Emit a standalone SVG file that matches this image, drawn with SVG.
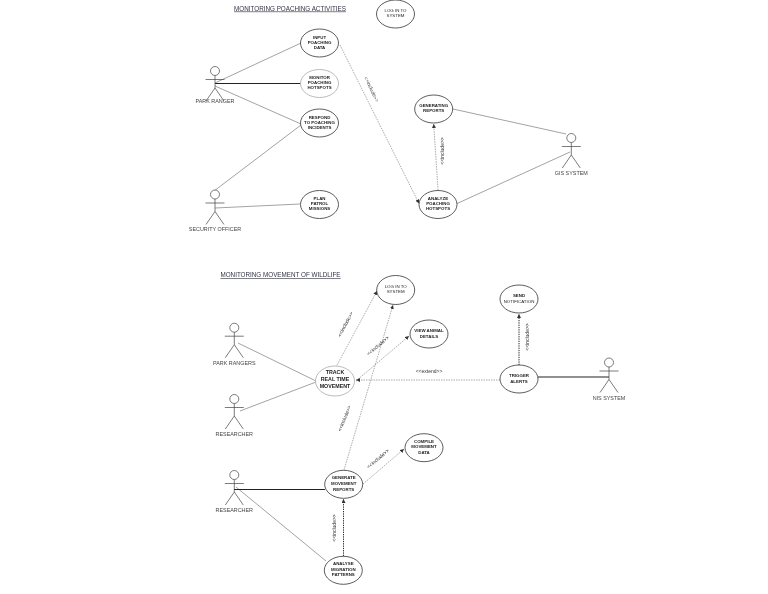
<svg xmlns="http://www.w3.org/2000/svg" width="768" height="594" viewBox="0 0 768 594">
<style>
text{font-family:"Liberation Sans",Arial,sans-serif;text-anchor:middle;fill:#222}
.uc{font-size:4.4px;font-weight:bold}
.ucn{font-size:4.4px}
.ac{font-size:5.400px;fill:#444}
.ti{font-size:6.300px;fill:#334;text-decoration:underline}
.st{font-size:5px;fill:#333}
.uc-shape{fill:#fff;stroke:#333;stroke-width:.8}
.limb{fill:none;stroke:#444;stroke-width:.7}
.head{fill:#fff;stroke:#444;stroke-width:.7}
.assoc{stroke:#999;stroke-width:.9;fill:none}
.strong{stroke:#222;stroke-width:1.100;fill:none}
.dash{stroke:#888;stroke-width:.7;stroke-dasharray:1.500 1;fill:none;marker-end:url(#arr)}
.dashk{stroke:#111;stroke-width:.9;stroke-dasharray:1.300 1;fill:none;marker-end:url(#arr)}
</style>
<defs>
<filter id="soft" x="0" y="0" width="100%" height="100%"><feGaussianBlur stdDeviation="0.3"/></filter>
<marker id="arr" markerUnits="userSpaceOnUse" markerWidth="5" markerHeight="5" refX="4" refY="2" orient="auto"><path d="M0 0L4 2L0 4Z" fill="#333"/></marker>
<symbol id="actor" overflow="visible"><circle class="head" cx="0" cy="0" r="4.500"/><path class="limb" d="M0 4.500V17M-9.500 8.500H9.500M0 17L-9 30M0 17L9 30"/></symbol>
</defs>
<g filter="url(#soft)">
<rect width="768" height="594" fill="#fff"/>
<g id="connectors">
<path class="assoc" d="M215 83L301 43M215 86L301 124M214 191L301 125M215 208L300 204M453 109L566 134M456 204L570 152M316 381L238 343M316 382L240 411M326 561L236 487"/>
<path class="strong" d="M215 83.500H301M234 489.500H325M538 377H609"/>
<path class="dash" d="M340 45L419 203.500"/>
<path class="dash" d="M438 190L433.700 124"/>
<path class="dash" d="M336 367L377 291"/>
<path class="dash" d="M356 381L409 336"/>
<path class="dash" d="M344 470L393 305"/>
<path class="dash" d="M500 380L356 380"/>
<path class="dash" d="M363 484L404 449"/>
<path class="dashk" d="M519 365L519 314"/>
<path class="dashk" d="M343.500 556L343.500 499"/>
</g>
<g id="titles">
<text class="ti" x="290" y="10.500">MONITORING POACHING ACTIVITIES</text>
<text class="ti" x="280.500" y="277">MONITORING MOVEMENT OF WILDLIFE</text>
</g>
<g id="stereotypes">
<text class="st" transform="translate(370 90) rotate(65)">&lt;&lt;include&gt;&gt;</text>
<text class="st" transform="translate(444 151) rotate(-90)">&lt;&lt;include&gt;&gt;</text>
<text class="st" transform="translate(347 325) rotate(-62)">&lt;&lt;include&gt;&gt;</text>
<text class="st" transform="translate(379 347) rotate(-40)">&lt;&lt;include&gt;&gt;</text>
<text class="st" transform="translate(346 419) rotate(-68)">&lt;&lt;include&gt;&gt;</text>
<text class="st" x="429" y="373">&lt;&lt;extend&gt;&gt;</text>
<text class="st" transform="translate(529 337) rotate(-90)">&lt;&lt;include&gt;&gt;</text>
<text class="st" transform="translate(379 460) rotate(-40)">&lt;&lt;include&gt;&gt;</text>
<text class="st" transform="translate(336 528) rotate(-90)">&lt;&lt;include&gt;&gt;</text>
</g>
<g id="uc-input"><ellipse class="uc-shape" cx="319.500" cy="43" rx="19" ry="14"/><text class="uc" x="319.500" y="38.500">INPUT</text><text class="uc" x="319.500" y="43.500">POACHING</text><text class="uc" x="319.500" y="48.500">DATA</text></g>
<g id="uc-monitor"><ellipse class="uc-shape" cx="319.500" cy="83.500" rx="19" ry="14" style="stroke:#aaa"/><text class="uc" x="319.500" y="78.500">MONITOR</text><text class="uc" x="319.500" y="83.500">POACHING</text><text class="uc" x="319.500" y="89">HOTSPOTS</text></g>
<g id="uc-respond"><ellipse class="uc-shape" cx="319.500" cy="123" rx="19" ry="14"/><text class="uc" x="319.500" y="118.500">RESPOND</text><text class="uc" x="319.500" y="123.500">TO POACHING</text><text class="uc" x="319.500" y="129">INCIDENTS</text></g>
<g id="uc-plan"><ellipse class="uc-shape" cx="319.500" cy="204.500" rx="19" ry="14"/><text class="uc" x="319.500" y="199.500">PLAN</text><text class="uc" x="319.500" y="204.500">PATROL</text><text class="uc" x="319.500" y="210">MISSIONS</text></g>
<g id="uc-login1"><ellipse class="uc-shape" cx="395.500" cy="14" rx="19" ry="14"/><text class="ucn" x="395.500" y="12">LOG IN TO</text><text class="ucn" x="395.500" y="17">SYSTEM</text></g>
<g id="uc-generating"><ellipse class="uc-shape" cx="433.700" cy="109" rx="19" ry="14"/><text class="uc" x="433.700" y="107">GENERATING</text><text class="uc" x="433.700" y="112">REPORTS</text></g>
<g id="uc-analyze"><ellipse class="uc-shape" cx="438" cy="204.500" rx="19" ry="14"/><text class="uc" x="438" y="199.500">ANALYZE</text><text class="uc" x="438" y="204.500">POACHING</text><text class="uc" x="438" y="210">HOTSPOTS</text></g>
<g id="uc-login2"><ellipse class="uc-shape" cx="395.700" cy="290" rx="19" ry="14.500"/><text class="ucn" x="395.700" y="288">LOG IN TO</text><text class="ucn" x="395.700" y="293">SYSTEM</text></g>
<g id="uc-view"><ellipse class="uc-shape" cx="429" cy="334" rx="19" ry="14"/><text class="uc" x="429" y="332">VIEW ANIMAL</text><text class="uc" x="429" y="337.500">DETAILS</text></g>
<g id="uc-track"><ellipse class="uc-shape" cx="335" cy="381" rx="19.500" ry="15" style="stroke:#aaa"/><text class="uc" style="font-size:5.300px" x="335" y="373.500">TRACK</text><text class="uc" style="font-size:5.300px" x="335" y="380.500">REAL TIME</text><text class="uc" style="font-size:5.300px" x="335" y="387.500">MOVEMENT</text></g>
<g id="uc-compile"><ellipse class="uc-shape" cx="424" cy="447.700" rx="19" ry="14"/><text class="uc" x="424" y="442.500">COMPILE</text><text class="uc" x="424" y="448">MOVEMENT</text><text class="uc" x="424" y="453.500">DATA</text></g>
<g id="uc-generate"><ellipse class="uc-shape" cx="343.700" cy="484.300" rx="19" ry="14"/><text class="uc" x="343.700" y="479">GENERATE</text><text class="uc" x="343.700" y="485">MOVEMENT</text><text class="uc" x="343.700" y="491">REPORTS</text></g>
<g id="uc-analyse"><ellipse class="uc-shape" cx="343.300" cy="570.300" rx="19" ry="14"/><text class="uc" x="343.300" y="565">ANALYSE</text><text class="uc" x="343.300" y="570.500">MIGRATION</text><text class="uc" x="343.300" y="576">PATTERNS</text></g>
<g id="uc-send"><ellipse class="uc-shape" cx="519" cy="299" rx="19" ry="14"/><text class="uc" x="519" y="297">SEND</text><text class="ucn" x="519" y="302.500">NOTIFICATION</text></g>
<g id="uc-trigger"><ellipse class="uc-shape" cx="519" cy="379" rx="19" ry="14"/><text class="uc" x="519" y="377">TRIGGER</text><text class="uc" x="519" y="383">ALERTS</text></g>
<g id="actor-park-ranger"><use href="#actor" x="215" y="71"/><text class="ac" x="215" y="103">PARK RANGER</text></g>
<g id="actor-security"><use href="#actor" x="215" y="194.500"/><text class="ac" x="215" y="231">SECURITY OFFICER</text></g>
<g id="actor-gis"><use href="#actor" x="571.300" y="138"/><text class="ac" x="571.300" y="174.500">GIS SYSTEM</text></g>
<g id="actor-park-rangers"><use href="#actor" x="234.300" y="327.700"/><text class="ac" x="234.300" y="364.500">PARK RANGERS</text></g>
<g id="actor-researcher1"><use href="#actor" x="234.300" y="399"/><text class="ac" x="234.300" y="435.500">RESEARCHER</text></g>
<g id="actor-researcher2"><use href="#actor" x="234.300" y="475"/><text class="ac" x="234.300" y="511.500">RESEARCHER</text></g>
<g id="actor-nis"><use href="#actor" x="609" y="362.500"/><text class="ac" x="609" y="399.500">NIS SYSTEM</text></g>
</g>
</svg>
